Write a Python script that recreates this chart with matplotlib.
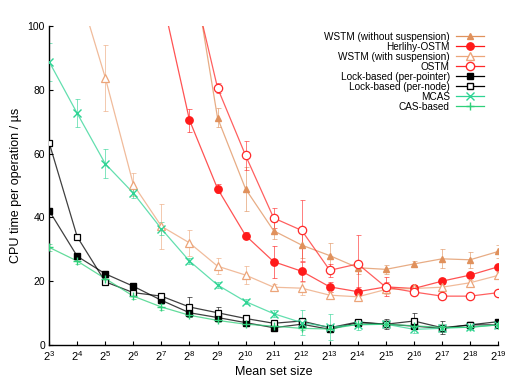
import matplotlib
matplotlib.use("Agg")
import matplotlib.pyplot as plt
import numpy as np

plt.rcParams['font.family'] = ['Liberation Sans', 'DejaVu Sans']
plt.rcParams['mathtext.fontset'] = 'custom'
plt.rcParams['mathtext.rm'] = 'Liberation Sans'
plt.rcParams['mathtext.it'] = 'Liberation Sans'

exponents = list(range(3, 20))
xtick_labels = [f"$2^{{{e}}}$" for e in exponents]

# series: exponent start and values
wstm_wo_exp = list(range(8, 20))
wstm_wo = [125, 71.2, 48.9, 35.8, 31.3, 28.0, 24.2, 23.7, 25.4, 27.0, 26.7, 29.3]
wstm_wo_err = [0, 3, 7, 2.7, 4, 4, 2, 1.5, 1, 3, 2.5, 2]

herlihy_exp = list(range(7, 20))
herlihy = [110, 70.5, 49.0, 34.3, 26.1, 23.1, 18.2, 16.7, 18.2, 17.7, 20.0, 21.9, 24.5]
herlihy_err = [0, 3.6, 1.5, 1, 5, 3, 1.5, 1.5, 3, 1, 1, 1, 1]

wstm_w_exp = list(range(4, 20))
wstm_w = [113, 83.8, 50.3, 37.2, 32.0, 24.7, 21.9, 18.1, 17.8, 15.6, 15.1, 17.4, 17.7, 18.1, 19.5, 21.8]
wstm_w_err = [0, 10.3, 3.5, 7, 4, 2.5, 2.9, 1, 2, 1, 1, 1.5, 1, 1, 1, 1]

ostm_exp = list(range(8, 20))
ostm = [118, 80.6, 59.4, 39.8, 35.9, 23.4, 25.4, 18.1, 16.6, 15.3, 15.3, 16.4]
ostm_err = [0, 1.5, 4.5, 3, 9.5, 2, 9, 1.5, 1, 0.5, 0.5, 0.5]

lock_ptr_exp = list(range(3, 20))
lock_ptr = [42.1, 27.8, 22.3, 18.4, 14.0, 10.1, 8.6, 7.0, 5.4, 6.5, 4.9, 7.0, 6.5, 5.9, 5.2, 6.3, 7.3]
lock_ptr_err = [0.5, 0.5, 0.5, 0.8, 0.8, 0.8, 0.8, 0.5, 0.5, 0.5, 0.5, 0.8, 0.8, 0.8, 0.8, 0.8, 0.5]

lock_node_exp = list(range(3, 20))
lock_node = [63.4, 33.9, 19.8, 16.4, 15.3, 11.9, 10.1, 8.3, 6.8, 7.5, 5.4, 7.2, 6.5, 7.5, 5.4, 6.3, 6.3]
lock_node_err = [1, 0.8, 0.5, 0.5, 0.8, 3, 1.7, 1, 1, 1, 1, 1, 1.5, 2.6, 2, 1, 0.5]

mcas_exp = list(range(3, 20))
mcas = [88.8, 72.6, 56.8, 47.6, 36.4, 26.3, 18.8, 13.6, 9.8, 7.0, 5.6, 6.3, 6.5, 4.9, 5.2, 5.6, 6.3]
mcas_err = [6, 4.4, 4.5, 1.5, 2, 1, 0.8, 0.8, 1, 4, 4, 1.5, 1, 1, 1, 1, 0.8]

cas_exp = list(range(3, 20))
cas = [30.6, 26.3, 20.8, 15.3, 11.9, 9.3, 7.7, 6.5, 5.9, 5.2, 5.0, 6.5, 6.5, 6.0, 5.5, 5.5, 6.3]
cas_err = [1, 0.8, 0.8, 0.8, 0.8, 0.5, 0.5, 0.5, 0.5, 0.5, 0.5, 0.5, 0.5, 0.5, 0.5, 0.5, 0.5]

series = [
    ("WSTM (without suspension)", wstm_wo_exp, wstm_wo, wstm_wo_err, '#e0915c', '^', 'full', 4.5),
    ("Herlihy-OSTM", herlihy_exp, herlihy, herlihy_err, '#ff1a1a', 'o', 'full', 5.3),
    ("WSTM (with suspension)", wstm_w_exp, wstm_w, wstm_w_err, '#eca57a', '^', 'none', 5.3),
    ("OSTM", ostm_exp, ostm, ostm_err, '#ff2a2a', 'o', 'none', 6),
    ("Lock-based (per-pointer)", lock_ptr_exp, lock_ptr, lock_ptr_err, '#000000', 's', 'full', 5),
    ("Lock-based (per-node)", lock_node_exp, lock_node, lock_node_err, '#000000', 's', 'none', 5),
    ("MCAS", mcas_exp, mcas, mcas_err, '#2fd494', 'x', 'full', 5.5),
    ("CAS-based", cas_exp, cas, cas_err, '#2fd07a', '+', 'full', 5.5),
]

fig = plt.figure(figsize=(5.12, 3.82), dpi=100)
ax = fig.add_axes([0.096, 0.097, 0.877, 0.835])

for label, ex, vals, err, col, mk, fill, ms in series:
    xs = np.array(ex, dtype=float)
    ax.errorbar(xs, vals, yerr=err, fmt='none', ecolor=col, elinewidth=0.6,
                capsize=1.8, capthick=0.6, alpha=0.7, zorder=2)
    ax.plot(xs, vals, color=col, lw=0.9, alpha=0.75, zorder=3)
    if fill == 'none':
        ax.plot(xs, vals, linestyle='none', marker=mk, markersize=ms,
                markerfacecolor='white', markeredgecolor=col, markeredgewidth=0.9, zorder=4)
    else:
        ax.plot(xs, vals, linestyle='none', marker=mk, markersize=ms,
                color=col, markeredgewidth=1.0, zorder=4)
    ax.plot([], [], color=col, lw=0.9, marker=mk, markersize=ms,
            markerfacecolor=('white' if fill == 'none' else col),
            markeredgecolor=col, label=label)

ax.set_xlim(3, 19)
ax.set_ylim(0, 100)
ax.set_xticks(exponents)
ax.set_xticklabels(xtick_labels, fontsize=8)
ax.set_yticks([0, 20, 40, 60, 80, 100])
ax.tick_params(axis='y', labelsize=7.5)
ax.tick_params(direction='in', length=3, width=0.8, pad=3)
for s in ['top', 'right']:
    ax.spines[s].set_visible(False)
for s in ['left', 'bottom']:
    ax.spines[s].set_linewidth(1.0)

ax.set_xlabel("Mean set size", fontsize=9, labelpad=2)
ax.set_ylabel("CPU time per operation / µs", fontsize=9, labelpad=4)

leg = ax.legend(loc='upper right', bbox_to_anchor=(0.981, 1.0), frameon=False,
                fontsize=7.2, markerfirst=False, labelspacing=0.0,
                handlelength=2.8, handletextpad=0.6, borderpad=0.1)

fig.savefig("out.png", dpi=100)
